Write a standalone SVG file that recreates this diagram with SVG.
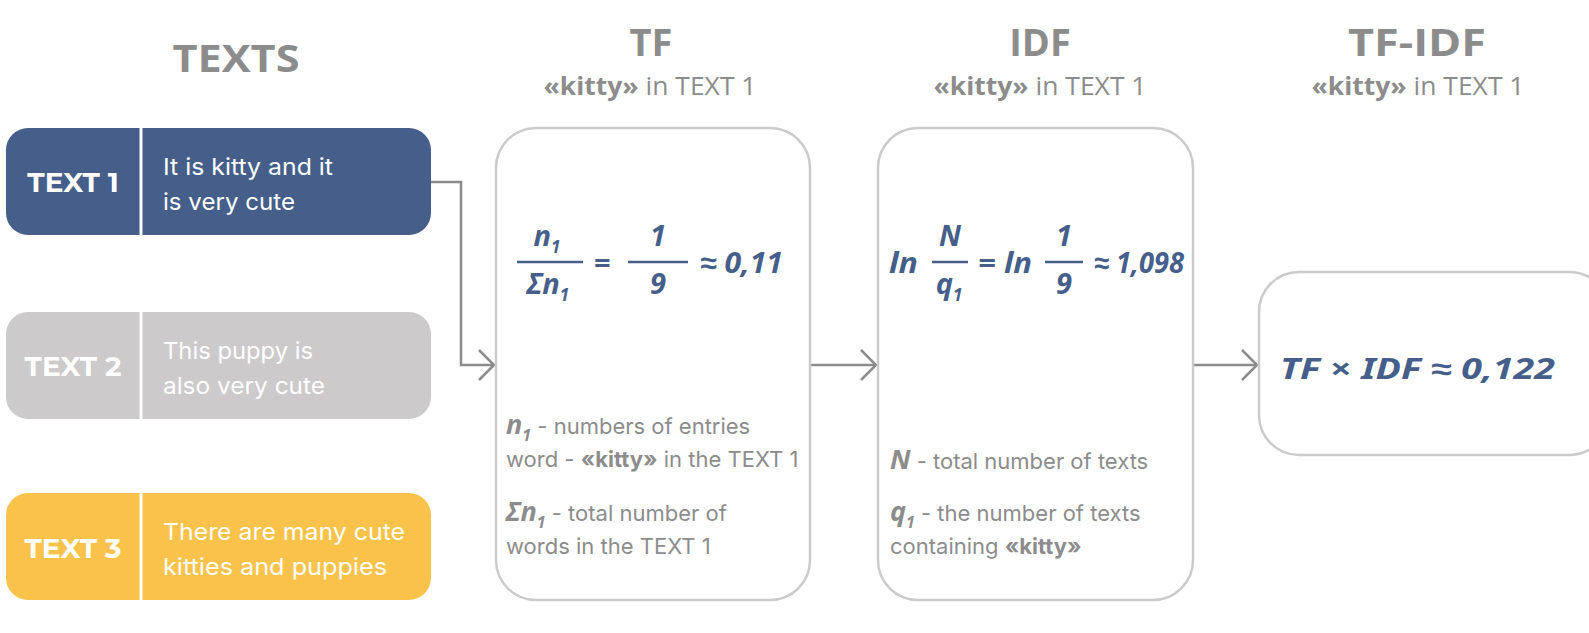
<svg xmlns="http://www.w3.org/2000/svg" width="1589" height="633" viewBox="0 0 1589 633">
<defs>
<style>
.hdr{font-family:"Open Sans","Liberation Sans",sans-serif;font-weight:700;font-size:38px;fill:#8c8c8c;text-anchor:middle}
.sub{font-family:"Open Sans","Liberation Sans",sans-serif;font-size:25px;fill:#8c8c8c;text-anchor:middle}
.lbl{font-family:"Montserrat","Inter","Liberation Sans",sans-serif;font-weight:700;font-size:28px;fill:#fff;text-anchor:middle}
.body{font-family:"Inter","Noto Sans","Liberation Sans",sans-serif;font-size:23.5px;fill:#fff}
.frm{font-family:"Noto Sans","Liberation Sans",sans-serif;font-weight:700;font-style:italic;font-size:29px;fill:#455f8a}
.desc{font-family:"Inter","Noto Sans","Liberation Sans",sans-serif;font-size:22px;fill:#8c8c8c}
.dn{font-family:"Noto Sans","Liberation Sans",sans-serif;font-weight:700;font-style:italic;fill:#8c8c8c}
.card{fill:#fff;stroke:#cbcbcb;stroke-width:2.5}
.fl{stroke:#455f8a;stroke-width:2.5}
.conn{fill:none;stroke:#8c8c8c;stroke-width:2.5}
</style>
<marker id="ah" markerWidth="22" markerHeight="36" refX="18" refY="18" orient="auto" markerUnits="userSpaceOnUse">
<path d="M3,3 L18,18 L3,33" fill="none" stroke="#8c8c8c" stroke-width="2.5"/>
</marker>
</defs>
<rect width="1589" height="633" fill="#fff"/>

<g id="headers">
<text class="hdr" x="236" y="72" textLength="127" lengthAdjust="spacingAndGlyphs">TEXTS</text>
<text class="hdr" x="651" y="56">TF</text>
<text class="sub" x="650" y="95" textLength="213" lengthAdjust="spacingAndGlyphs"><tspan font-weight="700">«kitty»</tspan> in TEXT 1</text>
<text class="hdr" x="1040" y="56">IDF</text>
<text class="sub" x="1040" y="95" textLength="213" lengthAdjust="spacingAndGlyphs"><tspan font-weight="700">«kitty»</tspan> in TEXT 1</text>
<text class="hdr" x="1417" y="56" textLength="138" lengthAdjust="spacingAndGlyphs">TF-IDF</text>
<text class="sub" x="1418" y="95" textLength="213" lengthAdjust="spacingAndGlyphs"><tspan font-weight="700">«kitty»</tspan> in TEXT 1</text>
</g>

<g id="connectors">
<path class="conn" d="M431,182 H461 V365 H494" marker-end="url(#ah)"/>
<path class="conn" d="M811,365 H876" marker-end="url(#ah)"/>
<path class="conn" d="M1194,365 H1257" marker-end="url(#ah)"/>
</g>

<g id="text1">
<rect x="6" y="128" width="425" height="107" rx="22" fill="#455f8a"/>
<line x1="141" y1="128" x2="141" y2="235" stroke="#fff" stroke-width="3"/>
<text class="lbl" x="73" y="192">TEXT 1</text>
<text class="body" x="163" y="175" textLength="170" lengthAdjust="spacingAndGlyphs">It is kitty and it</text>
<text class="body" x="163" y="210" textLength="132" lengthAdjust="spacingAndGlyphs">is very cute</text>
</g>

<g id="text2">
<rect x="6" y="312" width="425" height="107" rx="22" fill="#cccacb"/>
<line x1="141" y1="312" x2="141" y2="419" stroke="#fff" stroke-width="3"/>
<text class="lbl" x="73" y="376">TEXT 2</text>
<text class="body" x="163" y="359" textLength="150" lengthAdjust="spacingAndGlyphs">This puppy is</text>
<text class="body" x="163" y="394" textLength="162" lengthAdjust="spacingAndGlyphs">also very cute</text>
</g>

<g id="text3">
<rect x="6" y="493" width="425" height="107" rx="22" fill="#f9c34b"/>
<line x1="141" y1="493" x2="141" y2="600" stroke="#fff" stroke-width="3"/>
<text class="lbl" x="73" y="558">TEXT 3</text>
<text class="body" x="163" y="540" textLength="242" lengthAdjust="spacingAndGlyphs">There are many cute</text>
<text class="body" x="163" y="575" textLength="224" lengthAdjust="spacingAndGlyphs">kitties and puppies</text>
</g>

<g id="tf">
<rect class="card" x="496" y="128" width="314" height="472" rx="40"/>
<text class="frm" x="547" y="246" text-anchor="middle">n<tspan font-size="17" dy="7">1</tspan></text>
<line class="fl" x1="517" y1="262" x2="583" y2="262"/>
<text class="frm" x="548" y="294" text-anchor="middle">Σn<tspan font-size="17" dy="7">1</tspan></text>
<text class="frm" x="602" y="273" text-anchor="middle">=</text>
<text class="frm" x="658" y="246" text-anchor="middle">1</text>
<line class="fl" x1="628" y1="262" x2="688" y2="262"/>
<text class="frm" x="658" y="294" text-anchor="middle">9</text>
<text class="frm" x="700" y="273" textLength="83" lengthAdjust="spacingAndGlyphs">≈ 0,11</text>
<text class="desc" x="506" y="434"><tspan class="dn" font-size="27">n</tspan><tspan class="dn" font-size="16" dy="7">1</tspan><tspan dy="-7"> - numbers of entries</tspan></text>
<text class="desc" x="506" y="467">word - <tspan font-weight="700">«kitty»</tspan> in the TEXT 1</text>
<text class="desc" x="506" y="521"><tspan class="dn" font-size="27">Σn</tspan><tspan class="dn" font-size="16" dy="7">1</tspan><tspan dy="-7"> - total number of</tspan></text>
<text class="desc" x="506" y="554">words in the TEXT 1</text>
</g>

<g id="idf">
<rect class="card" x="878" y="128" width="315" height="472" rx="40"/>
<text class="frm" x="889" y="273" textLength="29" lengthAdjust="spacingAndGlyphs">ln</text>
<text class="frm" x="950" y="246" text-anchor="middle">N</text>
<line class="fl" x1="932" y1="262" x2="968" y2="262"/>
<text class="frm" x="949" y="294" text-anchor="middle">q<tspan font-size="17" dy="7">1</tspan></text>
<text class="frm" x="978" y="273" textLength="54" lengthAdjust="spacingAndGlyphs">= ln</text>
<text class="frm" x="1064" y="246" text-anchor="middle">1</text>
<line class="fl" x1="1045" y1="262" x2="1083" y2="262"/>
<text class="frm" x="1064" y="294" text-anchor="middle">9</text>
<text class="frm" x="1094" y="273" textLength="90" lengthAdjust="spacingAndGlyphs">≈ 1,098</text>
<text class="desc" x="890" y="469"><tspan class="dn" font-size="27">N</tspan> - total number of texts</text>
<text class="desc" x="890" y="521"><tspan class="dn" font-size="27">q</tspan><tspan class="dn" font-size="16" dy="7">1</tspan><tspan dy="-7"> - the number of texts</tspan></text>
<text class="desc" x="890" y="554">containing <tspan font-weight="700">«kitty»</tspan></text>
</g>

<g id="tfidf">
<rect class="card" x="1259" y="272" width="350" height="183" rx="40"/>
<text class="frm" x="1280" y="379" font-size="39" textLength="275" lengthAdjust="spacingAndGlyphs">TF × IDF ≈ 0,122</text>
</g>
</svg>
